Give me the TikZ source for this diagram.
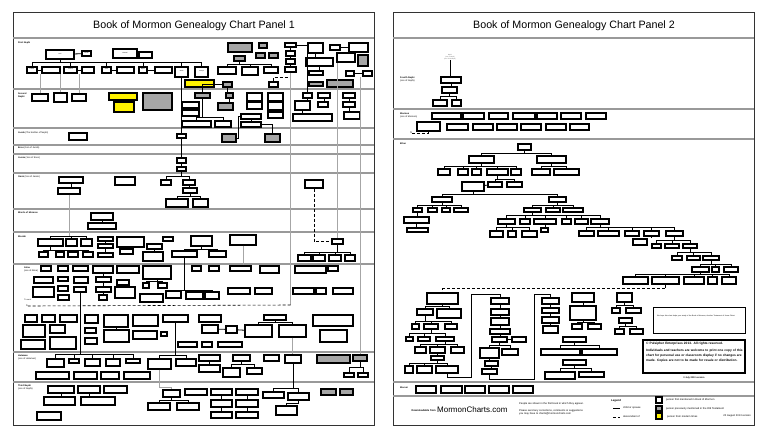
\documentclass[tikz,border=0pt]{standalone}
\usepackage{fontspec}
\setmainfont{Liberation Sans}
\usetikzlibrary{fit}
\newcommand{\fsz}[2]{\fontsize{#1}{#2}\selectfont}
% box spanning two corners
\newcommand{\bx}[7][]{\node[pb,#1,fit={(#3,#4) (#5,#6)}] (#2) {#7};}
% parent to children, bar #2 below parent
\newcommand{\ptree}[3]{\foreach \ch in {#3} {\draw[cn] (#1.south) -- ++(0,#2) -| (\ch.north);}}
\newcommand{\pchain}[2]{\draw[cn] (#1.south) -- (#1.south |- #2.north);}

\begin{document}
\begin{tikzpicture}[x=1pt,y=-1pt,
pb/.style={draw=black,line width=1.1pt,fill=white,inner sep=0pt,font=\fsz{1.5}{1.8},align=center},
gb/.style={fill=black!35},
yb/.style={fill=yellow},
cn/.style={line width=0.8pt,black},
gl/.style={line width=0.6pt,black!35},
dl/.style={line width=0.6pt,black,densely dashed},
sec/.style={line width=1.2pt,black!40},
frame/.style={line width=0.8pt,black!80},
slbl/.style={anchor=north west,align=left,inner sep=0pt,font=\fsz{2.3}{2.8}},
smtxt/.style={inner sep=0pt,align=left,font=\fsz{2.6}{3.2}}
]
\fill[white] (0,0) rectangle (768,445);
\useasboundingbox (0,0) rectangle (768,445);

% ---------------- panel 1
\draw[frame] (13,12) rectangle (374,425);
\draw[sec] (13,38) -- (374,38);
\foreach \yy in {89,128,145,154,173,209,232,264,352,382} \draw[sec] (13,\yy) -- (374,\yy);
\node[font=\fsz{10.7}{12}] (title1) at (194,26) {Book of Mormon Genealogy Chart Panel 1};

\node[slbl] (lb1) at (18,42) {\textbf{First Nephi}};
\node[slbl] (lb2) at (18,93) {\textbf{Second}\\\textbf{Nephi}};
\node[slbl] (lb3) at (18,132) {\textbf{Jacob} (The brother of Nephi)};
\node[slbl] (lb4) at (18,147) {\textbf{Enos} (Son of Jacob)};
\node[slbl] (lb5) at (18,157) {\textbf{Jarom} (Son of Enos)};
\node[slbl] (lb6) at (18,176) {\textbf{Omni} (Son of Jarom)};
\node[slbl] (lb7) at (18,212) {\textbf{Words of Mormon}};
\node[slbl] (lb8) at (18,236) {\textbf{Mosiah}};
\node[slbl] (lb9) at (24,267) {\textbf{Alma}\\(son of Alma)};
\node[slbl] (lb10) at (18,355) {\textbf{Helaman}\\(son of Helaman)};
\node[slbl] (lb11) at (18,385) {\textbf{Third Nephi}\\(son of Nephi)};

% first nephi
\bx{lehi}{46}{50}{74}{59}{Lehi}
\bx{sariah}{82}{51}{91}{56}{Sariah}
\bx{ishm}{113}{49}{137}{58}{Ishmael}
\bx{ishmw}{139}{52}{152}{58}{}
\bx{laman}{27}{67}{37}{73}{Laman}
\bx{lamw}{42}{67}{60}{73}{}
\bx{lemuel}{64}{67}{77}{73}{Lemuel}
\bx{lemw}{82}{67}{94}{73}{}
\bx{sam}{102}{67}{111}{73}{Sam}
\bx{samw}{117}{67}{134}{73}{}
\bx{nephi}{139}{67}{147}{73}{Nephi}
\bx{nephw}{155}{67}{172}{73}{}
\bx{jacob}{175}{67}{188}{77}{Jacob}
\bx{joseph}{195}{67}{208}{77}{Joseph}
\bx[yb]{fy}{185}{80}{214}{87}{}
\bx[gb]{g1}{228}{43}{252}{52}{}
\bx[gb]{g2}{259}{43}{267}{48}{}
\bx[gb]{g3}{234}{56}{245}{61}{}
\bx[gb]{g4}{256}{53}{265}{58}{}
\bx[gb]{g5}{269}{53}{278}{58}{}
\bx{w1}{218}{67}{236}{74}{}
\bx{w2}{242}{67}{258}{75}{}
\bx{w3}{264}{67}{278}{73}{}
\bx{c1}{285}{43}{296}{47}{}
\bx{c2}{286}{51}{295}{56}{}
\bx{c3}{286}{59}{295}{64}{}
\bx{c4}{285}{67}{296}{72}{}
\bx{c5}{303}{93}{312}{98}{}
\bx{r1}{308}{43}{323}{53}{}
\bx{r2}{306}{58}{333}{66}{}
\bx{r3}{309}{71}{323}{75}{}
\bx{r4}{330}{45}{340}{50}{}
\bx{r5}{349}{43}{368}{52}{}
\bx{r6}{337}{53}{355}{62}{}
\bx[gb]{r7}{358}{55}{368}{66}{}
\bx{r8}{346}{71}{354}{76}{}
\bx{r9}{363}{71}{372}{76}{}
\bx[gb]{q1}{309}{82}{323}{86}{}
\bx[gb]{q2}{327}{80}{353}{87}{}
\bx{d1}{269}{82}{278}{87}{}
\bx[gb]{s1}{223}{82}{232}{87}{}

% second nephi
\bx{kid1}{32}{94}{48}{101}{}
\bx{kid2}{54}{93}{67}{102}{}
\bx{kid3}{72}{94}{86}{101}{}
\bx[yb]{sy1}{109}{93}{137}{100}{}
\bx[yb]{sy2}{114}{102}{134}{112}{}
\bx[gb]{sg}{143}{93}{172}{110}{}
\bx[gb]{s2}{195}{93}{210}{98}{}
\bx[gb]{s3}{226}{93}{233}{98}{}
\bx[gb]{s4}{218}{103}{233}{110}{}
\bx{s5}{182}{102}{199}{108}{}
\bx{s6}{182}{110}{199}{116}{}
\bx{s7}{182}{121}{211}{127}{}
\bx{s8}{215}{121}{231}{127}{}
\bx{s9}{247}{93}{262}{101}{}
\bx{s10}{247}{102}{262}{109}{}
\bx{s11}{268}{93}{283}{101}{}
\bx{s12}{268}{102}{283}{110}{}
\bx{s13}{268}{112}{283}{118}{}
\bx{s14}{241}{114}{261}{119}{}
\bx{s15}{241}{122}{261}{127}{}
\bx{s16}{295}{101}{310}{110}{}
\bx{s17}{318}{93}{330}{98}{}
\bx{s18}{318}{102}{328}{107}{}
\bx{s19}{293}{114}{332}{121}{}
\bx{s20}{343}{93}{355}{98}{}
\bx{s21}{343}{102}{355}{107}{}
\bx{s22}{344}{112}{360}{119}{}

% jacob to omni
\bx{jb}{69}{133}{87}{140}{}
\bx[gb]{jg1}{222}{134}{236}{142}{}
\bx[gb]{jg2}{265}{134}{280}{142}{}
\bx{enos}{177}{134}{186}{138}{}
\bx{jarom}{177}{158}{186}{163}{}
\bx{omni}{177}{167}{186}{171}{}
\bx{amaron}{161}{180}{171}{185}{}
\bx{chemish}{183}{180}{195}{185}{}
\bx{abinadom}{183}{188}{197}{193}{}
\bx{amaleki}{166}{199}{188}{207}{}
\bx{obx}{193}{199}{208}{207}{}
\bx{o1}{59}{177}{83}{183}{}
\bx{o2}{58}{188}{80}{194}{}
\bx{o3}{115}{177}{135}{185}{}
\bx{o4}{305}{180}{323}{188}{}
\bx{wm1}{91}{213}{113}{220}{}
\bx{wm2}{88}{223}{116}{229}{}

% mosiah
\bx{m1}{38}{239}{63}{246}{}
\bx{m2}{66}{239}{77}{246}{}
\bx{m3}{81}{239}{92}{246}{}
\bx{m4}{39}{252}{48}{257}{}
\bx{m5}{56}{252}{64}{257}{}
\bx{m6}{68}{252}{78}{257}{}
\bx{m7}{83}{252}{93}{257}{}
\bx{m8}{98}{237}{113}{241}{}
\bx{m9}{98}{244}{113}{248}{}
\bx{m10}{98}{253}{113}{257}{}
\bx{m11}{117}{237}{144}{247}{}
\bx{m12}{120}{249}{133}{254}{}
\bx{m13}{147}{244}{162}{249}{}
\bx{m14}{143}{252}{163}{261}{}
\bx{m15}{163}{237}{173}{241}{}
\bx{m16}{191}{236}{212}{246}{}
\bx{m17}{172}{251}{197}{257}{}
\bx{m18}{209}{251}{226}{257}{}
\bx{m19}{230}{235}{256}{245}{}
\bx{mb}{332}{239}{343}{244}{}
\bx{mr1}{298}{255}{311}{261}{}
\bx{mr2}{313}{255}{325}{261}{}
\bx{mr3}{329}{255}{341}{261}{}
\bx{mr4}{345}{255}{355}{261}{}

% alma
\bx{a1}{41}{266}{51}{271}{}
\bx{a2}{58}{266}{68}{271}{}
\bx{a3}{73}{266}{88}{271}{}
\bx{a4}{93}{266}{113}{273}{}
\bx{a5}{117}{266}{139}{273}{}
\bx{a6}{143}{266}{171}{279}{}
\bx{a7}{192}{266}{201}{271}{}
\bx{a8}{209}{266}{219}{271}{}
\bx{a9}{230}{266}{251}{271}{}
\bx{a10}{260}{266}{279}{273}{}
\bx{a11}{295}{266}{326}{273}{}
\bx{a12}{328}{266}{338}{271}{}
\bx{a13}{34}{277}{53}{283}{}
\bx{a14}{58}{277}{68}{281}{}
\bx{a15}{74}{277}{88}{283}{}
\bx{a16}{96}{277}{111}{282}{}
\bx{a17}{117}{280}{129}{285}{}
\bx{a6a}{143}{283}{149}{288}{}
\bx{a6b}{158}{283}{167}{288}{}
\bx{a18}{33}{287}{54}{297}{}
\bx{a19}{58}{286}{68}{291}{}
\bx{a20}{58}{295}{69}{300}{}
\bx{a21}{74}{287}{86}{292}{}
\bx{a22}{96}{287}{111}{292}{}
\bx{a23}{99}{295}{107}{300}{}
\bx{a24}{115}{287}{135}{298}{}
\bx{a25}{140}{294}{163}{302}{}
\bx{a26}{166}{291}{181}{298}{}
\bx{a27}{186}{292}{203}{299}{}
\bx{a28}{205}{292}{219}{299}{}
\bx{a29}{228}{288}{250}{294}{}
\bx{a30}{255}{288}{272}{294}{}
\bx{a31}{293}{288}{314}{294}{}
\bx{a32}{316}{288}{326}{294}{}
\bx{a33}{333}{288}{353}{294}{}
\bx{b1}{25}{315}{37}{322}{}
\bx{b2}{42}{315}{55}{322}{}
\bx{b3}{60}{315}{77}{322}{}
\bx{b4}{85}{315}{98}{323}{}
\bx{b5}{104}{315}{128}{327}{}
\bx{b6}{133}{315}{158}{326}{}
\bx{b7}{163}{315}{188}{322}{}
\bx{b8}{199}{315}{221}{322}{}
\bx{b9}{264}{315}{286}{320}{}
\bx{b10}{313}{315}{353}{326}{}
\bx{b11}{23}{325}{45}{337}{}
\bx{b12}{50}{325}{65}{333}{}
\bx{b13}{85}{328}{96}{333}{}
\bx{b14}{104}{330}{129}{342}{}
\bx{b15}{133}{331}{157}{339}{}
\bx{b16}{161}{332}{167}{336}{}
\bx{b17}{202}{325}{218}{333}{}
\bx{b18}{226}{326}{237}{333}{}
\bx{b19}{245}{325}{272}{337}{}
\bx{b20}{279}{325}{306}{337}{}
\bx{b21}{320}{330}{347}{342}{}
\bx{b22}{21}{340}{45}{349}{}
\bx{b23}{50}{337}{76}{349}{}
\bx{b24}{85}{338}{97}{344}{}
\bx{b25}{178}{342}{197}{347}{}
\bx{b26}{202}{342}{212}{347}{}
\bx{b27}{218}{342}{242}{347}{}

% helaman
\bx{h1}{47}{359}{64}{367}{}
\bx{h2}{69}{359}{79}{363}{}
\bx{h3}{85}{359}{100}{366}{}
\bx{h4}{106}{359}{120}{366}{}
\bx{h5}{126}{359}{140}{363}{}
\bx{h6}{148}{359}{171}{369}{}
\bx{h7}{176}{359}{196}{366}{}
\bx{h8}{199}{355}{220}{361}{}
\bx{h9}{199}{365}{220}{372}{}
\bx{h10}{233}{355}{250}{361}{}
\bx{h11}{223}{368}{240}{377}{}
\bx{h12}{247}{368}{262}{374}{}
\bx{h13}{264}{355}{279}{361}{}
\bx{h14}{285}{355}{301}{363}{}
\bx[gb]{h15}{317}{355}{350}{363}{}
\bx[gb]{h16}{353}{355}{367}{361}{}
\bx{h17}{36}{372}{69}{379}{}
\bx{h18}{74}{372}{97}{379}{}
\bx{h19}{101}{372}{119}{379}{}
\bx{h20}{124}{372}{150}{379}{}
\bx{h21}{344}{373}{354}{377}{}
\bx{h22}{358}{373}{368}{377}{}

% third nephi
\bx{t1}{48}{386}{74}{393}{}
\bx{t2}{78}{386}{100}{393}{}
\bx{t3}{104}{386}{127}{393}{}
\bx{t4}{44}{397}{75}{405}{}
\bx{t5}{81}{397}{115}{405}{}
\bx{t6}{37}{412}{61}{420}{}
\bx{t7}{163}{390}{180}{397}{}
\bx{t8}{148}{403}{170}{410}{}
\bx{t9}{177}{403}{199}{410}{}
\bx{t10}{185}{389}{207}{395}{}
\bx{t11}{211}{389}{232}{395}{}
\bx{t12}{236}{389}{258}{395}{}
\bx{t13}{211}{400}{232}{407}{}
\bx{t14}{236}{400}{258}{407}{}
\bx{t15}{211}{412}{232}{418}{}
\bx{t16}{236}{412}{258}{418}{}
\bx{t17}{263}{392}{284}{398}{}
\bx{t18}{288}{393}{309}{400}{}
\bx{t19}{276}{406}{297}{415}{}
\bx[gb]{t20}{321}{389}{336}{395}{}
\bx[gb]{t21}{340}{389}{353}{395}{}

% panel 1 links
\draw[cn] (lehi) -- (sariah);
\draw[cn] (ishm) -- (ishmw);
\ptree{lehi}{3}{laman,lemuel,sam,nephi,jacob,joseph}
\foreach \a/\b in {laman/lamw,lemuel/lemw,sam/samw,nephi/nephw} \draw[cn] (\a) -- (\b);
\foreach \k in {kid1,kid2,kid3} \draw[gl] (\k.north) -- (\k.north |- laman.south);
\pchain{jacob}{enos}
\pchain{enos}{jarom}
\pchain{jarom}{omni}
\ptree{omni}{5}{amaron,chemish}
\pchain{chemish}{abinadom}
\ptree{abinadom}{3}{amaleki,obx}
\pchain{sy1}{sy2}
\ptree{g3}{3}{w1,w2,w3}
\pchain{c1}{c2}
\pchain{c2}{c3}
\pchain{c3}{c4}
\draw[cn] (c1.east) -| (c5.north);
\draw[cn] (r4) -- (r5);
\draw[cn] (r8) -- (r9);
\pchain{r1}{r2}
\pchain{r2}{r3}
\draw[dl] (d1.north) -- ++(0,-4) -| (c4.south);
\draw[cn] (s1.west) -| (s2.north);
\draw[cn] (s1.south) -- (s1.south |- s3.north);
\pchain{s3}{s4}
\pchain{s5}{s6}
\ptree{s2}{19}{s7,s8}
\pchain{s9}{s10}
\pchain{s11}{s12}
\pchain{s12}{s13}
\pchain{s14}{s15}
\draw[cn] (s14.west) -- ++(-2,0) |- (jg1.east);
\draw[cn] (s15.east) -| (jg2.north);
\pchain{c5}{s16}
\pchain{s16}{s19}
\pchain{s17}{s18}
\pchain{s20}{s21}
\pchain{s21}{s22}
\pchain{o1}{o2}
\pchain{wm1}{wm2}
\draw[gl] (o2.south) -- ++(0,42) coordinate (mbar);
\foreach \ch in {m1,m2,m3} \draw[cn] (mbar) -| (\ch.north);
\ptree{m1}{4}{m4,m5,m6,m7}
\pchain{m8}{m9}
\pchain{m9}{m10}
\pchain{m11}{m12}
\pchain{m13}{m14}
\ptree{m16}{3}{m17,m18}
\draw[gl] (m19.south) -- (m19.south |- a9.north);
\ptree{mb}{8}{mr1,mr2,mr3,mr4}
\draw[dl] (o4.south) |- (mb.west);
\draw[gl] (mb.north) -- (mb.north |- r6.south);
\pchain{a4}{a16}
\pchain{a16}{a22}
\pchain{a22}{a23}
\ptree{a6}{2}{a6a,a6b}
\ptree{m17}{33}{a26,a27,a28}
\ptree{a21}{62}{h1,h2,h3,h4,h5}
\ptree{b7}{33}{h6,h7}
\pchain{b5}{b14}
\draw[cn] (b17) -- (b18);
\draw[cn] (b18) -- (b19);
\ptree{b9}{2}{b19,b20}
\draw[gl] (b20.south) -- (b20.south |- h14.north);
\coordinate (k3) at (290.5,305);
\node[smtxt,font=\fsz{2}{2.4}] (tocont) at (28,300) {To cont.};
\node[smtxt,font=\fsz{2.4}{2.8}\bfseries] (one1) at (27,306) {1};
\draw[gl] (c4.south) -- (k3);
\draw[dl] (k3) -- (one1.east);
\pchain{h8}{h9}
\ptree{h10}{3}{h11,h12}
\ptree{h16}{6}{h21,h22}
\draw[gl] (h16.north) -- (h16.north |- r8.south);
\pchain{t1}{t4}
\pchain{t2}{t5}
\ptree{t7}{3}{t8,t9}
\pchain{t11}{t13}
\pchain{t13}{t15}
\pchain{t12}{t14}
\pchain{t14}{t16}
\draw[gl] (h6.south) -- ++(0,18) -| (t7.north);
\ptree{h14}{25}{t17,t18}
\ptree{t18}{3}{t19}

% ---------------- panel 2
\draw[frame] (393,12) rectangle (754,425);
\draw[sec] (393,38) -- (754,38);
\foreach \yy in {109,139,382,396} \draw[sec] (393,\yy) -- (754,\yy);
\node[font=\fsz{10.7}{12}] (title2) at (574,26) {Book of Mormon Genealogy Chart Panel 2};
\node[slbl] (lc1) at (400,77) {\textbf{Fourth Nephi}\\(son of Nephi)};
\node[slbl] (lc2) at (400,113) {\textbf{Mormon}\\(son of Mormon)};
\node[slbl] (lc3) at (400,143) {\textbf{Ether}};
\node[slbl] (lc4) at (400,387) {\textbf{Moroni}};

% fourth nephi
\node[smtxt,align=center,text=black!60,font=\fsz{1.5}{1.9}] (fnt) at (450,57) {Nephi\\(son of Nephi)\\(see Third Nephi)};
\bx{fn1}{441}{77}{461}{83}{}
\bx{fn2}{442}{87}{457}{93}{}
\bx{fn3}{433}{100}{447}{106}{}
\bx{fn4}{452}{100}{461}{106}{}
\pchain{fnt}{fn1}
\pchain{fn1}{fn2}
\ptree{fn2}{3}{fn3,fn4}

% mormon
\bx{mo1}{432}{113}{461}{119}{}
\bx{mo2}{463}{113}{484}{119}{}
\bx{mo3}{489}{113}{508}{119}{}
\bx{mo4}{513}{113}{535}{119}{}
\bx{mo5}{537}{113}{557}{119}{}
\bx{mo6}{561}{113}{581}{119}{}
\bx{mo7}{586}{113}{606}{119}{}
\bx{mo8}{417}{122}{440}{131}{}
\bx{mo9}{447}{124}{468}{130}{}
\bx{mo10}{473}{124}{493}{130}{}
\bx{mo11}{497}{124}{517}{130}{}
\bx{mo12}{521}{124}{541}{130}{}
\bx{mo13}{546}{124}{566}{130}{}
\bx{mo14}{570}{124}{589}{130}{}
\node[smtxt,font=\fsz{2.6}{3}\bfseries] (one2) at (411,133) {1};
\draw[dl] (one2.east) -| (mo8.south);

% ether
\bx{et0}{518}{144}{531}{150}{}
\bx{et1}{469}{156}{494}{163}{}
\bx{et2}{537}{156}{566}{163}{}
\bx{et3}{438}{169}{450}{175}{}
\bx{et4}{458}{169}{468}{175}{}
\bx{et5}{472}{169}{481}{175}{}
\bx{et6}{487}{169}{508}{175}{}
\bx{et7}{511}{169}{521}{175}{}
\bx{et8}{532}{169}{550}{175}{}
\bx{et9}{554}{169}{579}{175}{}
\bx{et10}{462}{182}{484}{191}{}
\bx{et11}{488}{182}{502}{187}{}
\bx{et12}{507}{182}{522}{187}{}
\bx{et13}{432}{197}{452}{202}{}
\bx{et14}{549}{197}{566}{202}{}
\bx{et15}{413}{208}{422}{212}{}
\bx{et16}{428}{208}{437}{212}{}
\bx{et17}{442}{208}{450}{212}{}
\bx{et18}{454}{208}{468}{212}{}
\bx{et19}{404}{217}{429}{223}{}
\bx{et20}{407}{228}{428}{232}{}
\bx{et21}{524}{208}{541}{212}{}
\bx{et22}{546}{208}{560}{212}{}
\bx{et23}{563}{208}{583}{212}{}
\bx{et24}{498}{219}{515}{224}{}
\bx{et25}{520}{219}{530}{224}{}
\bx{et26}{534}{219}{556}{224}{}
\bx{et27}{562}{219}{571}{224}{}
\bx{et28}{575}{219}{588}{224}{}
\bx{et29}{591}{219}{609}{224}{}
\bx{et30}{490}{231}{503}{237}{}
\bx{et31}{508}{231}{516}{237}{}
\bx{et32}{522}{231}{537}{237}{}
\bx{et33}{541}{228}{548}{232}{}
\bx{et34}{579}{231}{594}{236}{}
\bx{et35}{598}{231}{619}{236}{}
\bx{et36}{625}{231}{639}{236}{}
\bx{et37}{644}{231}{659}{236}{}
\bx{et38}{666}{231}{683}{236}{}
\bx{et39}{633}{239}{647}{245}{}
\bx{et40}{652}{244}{661}{248}{}
\bx{et41}{665}{244}{679}{248}{}
\bx{et42}{683}{244}{697}{248}{}
\bx{et43}{672}{256}{682}{260}{}
\bx{et44}{687}{256}{700}{260}{}
\bx{et45}{703}{256}{719}{260}{}
\bx{et46}{692}{267}{709}{272}{}
\bx{et47}{712}{267}{719}{272}{}
\bx{et48}{724}{267}{738}{272}{}
\bx{et49}{623}{277}{648}{284}{}
\bx{et50}{652}{277}{679}{284}{}
\bx{et51}{684}{277}{704}{284}{}
\bx{et52}{708}{277}{717}{284}{}
\bx{et53}{722}{277}{736}{284}{}
\bx{et54}{427}{293}{458}{304}{}
\bx{et55}{417}{309}{433}{315}{}
\bx{et56}{437}{309}{461}{318}{}
\bx{et57}{412}{324}{419}{329}{}
\bx{et58}{424}{324}{438}{329}{}
\bx{et59}{445}{324}{457}{329}{}
\bx{et60}{406}{337}{413}{341}{}
\bx{et61}{418}{337}{430}{341}{}
\bx{et62}{436}{337}{454}{341}{}
\bx{et63}{415}{347}{426}{353}{}
\bx{et64}{430}{347}{445}{353}{}
\bx{et65}{451}{347}{464}{353}{}
\bx{et66}{431}{356}{444}{360}{}
\bx{et67}{405}{366}{413}{373}{}
\bx{et68}{417}{366}{432}{373}{}
\bx{et69}{436}{366}{458}{373}{}
\bx{et70}{491}{298}{509}{304}{}
\bx{et71}{491}{309}{509}{315}{}
\bx{et72}{491}{318}{509}{325}{}
\bx{et73}{490}{329}{510}{334}{}
\bx{et74}{492}{337}{507}{342}{}
\bx{et75}{512}{337}{526}{342}{}
\bx{et76}{480}{348}{499}{358}{}
\bx{et77}{502}{349}{518}{355}{}
\bx{et78}{485}{361}{498}{366}{}
\bx{et79}{482}{369}{497}{374}{}
\bx{et80}{542}{298}{559}{304}{}
\bx{et81}{542}{308}{559}{313}{}
\bx{et82}{542}{317}{559}{323}{}
\bx{et83}{543}{326}{558}{333}{}
\bx{et84}{572}{293}{594}{302}{}
\bx{et85}{570}{306}{596}{320}{}
\bx{et86}{572}{324}{582}{329}{}
\bx{et87}{588}{324}{601}{329}{}
\bx{et88}{563}{337}{586}{342}{}
\bx{et89}{541}{349}{580}{355}{}
\bx{et90}{582}{349}{617}{355}{}
\bx{et91}{563}{360}{586}{365}{}
\bx{et92}{545}{372}{575}{379}{}
\bx{et93}{579}{372}{604}{377}{}
\bx{et94}{617}{293}{632}{302}{}
\bx{et95}{612}{308}{620}{313}{}
\bx{et96}{626}{308}{641}{313}{}
\bx{et97}{619}{318}{632}{323}{}
\bx{et98}{615}{329}{624}{334}{}
\bx{et99}{630}{329}{643}{334}{}

\ptree{et0}{3}{et1,et2}
\ptree{et1}{3}{et3,et4,et5,et6,et7}
\ptree{et2}{3}{et8,et9}
\ptree{et6}{4}{et11,et12}
\draw[cn] (et10) -- (et11);
\ptree{et10}{3}{et13,et14}
\ptree{et13}{3}{et15,et16,et17,et18}
\pchain{et15}{et19}
\pchain{et19}{et20}
\ptree{et14}{3}{et21,et22,et23}
\ptree{et21}{3}{et24,et25,et26,et27,et28,et29}
\ptree{et24}{3}{et30,et31,et32}
\pchain{et26}{et33}
\ptree{et29}{3}{et34,et35,et36,et37,et38}
\pchain{et37}{et39}
\ptree{et38}{4}{et40,et41,et42}
\ptree{et42}{4}{et43,et44,et45}
\ptree{et45}{4}{et46,et47,et48}
\ptree{et46}{2}{et49,et50,et51,et52,et53}
\draw[dl] (et50.south) -- ++(0,4) -| (et54.north);
\ptree{et54}{2}{et55,et56}
\ptree{et55}{6}{et57,et58,et59}
\ptree{et58}{4}{et60,et61,et62}
\ptree{et62}{3}{et63,et64,et65}
\pchain{et64}{et66}
\ptree{et66}{2.5}{et67,et68,et69}
\coordinate (k1) at (471,294);
\draw[cn] (et69.south) -- ++(0,4) -| (k1) -| (et70.north);
\pchain{et70}{et71}
\pchain{et71}{et72}
\pchain{et72}{et73}
\pchain{et73}{et74}
\draw[cn] (et74) -- (et75);
\ptree{et74}{3}{et76,et77}
\pchain{et76}{et78}
\pchain{et78}{et79}
\coordinate (k2) at (534,294);
\draw[cn] (et79.south) -- ++(0,5) -| (k2) -| (et80.north);
\pchain{et80}{et81}
\pchain{et81}{et82}
\pchain{et82}{et83}
\pchain{et84}{et85}
\ptree{et85}{2}{et86,et87}
\ptree{et88}{3}{et89,et90}
\ptree{et91}{3}{et92,et93}
\ptree{et94}{3}{et95,et96}
\ptree{et97}{3}{et98,et99}

% notes
\node[pb,line width=1pt,fit={(653,307) (745,333)}] (note) {};
\node[smtxt,anchor=north west,text width=86pt,font=\fsz{1.8}{2.3}] (notetxt) at (657,315) {We hope this chart helps your study of the Book of Mormon, Another Testament of Jesus Christ.};
\node[pb,line width=1.1pt,fit={(643,340) (745,373)}] (copy) {};
\node[smtxt,anchor=north west,text width=100pt,font=\fsz{3.2}{5.1}\bfseries] (copytxt) at (646,342) {© Pulsipher Enterprises 2013. All rights reserved.\\[1.6pt]Individuals and teachers are welcome to print one copy of this chart for personal use or classroom display if no changes are made. Copies are not to be made for resale or distribution.};
\node[smtxt,font=\fsz{2.3}{2.8}\bfseries] (ver1) at (694,378) {3 July 2013 version};

% moroni
\bx{mn1}{416}{386}{436}{393}{}
\bx{mn2}{441}{386}{462}{393}{}
\bx{mn3}{465}{386}{485}{393}{}
\bx{mn4}{489}{386}{509}{393}{}
\bx{mn5}{513}{386}{533}{393}{}

% footer
\node[smtxt,anchor=east,font=\fsz{2.6}{3}\bfseries] (dl1) at (436,410.5) {Downloadable from};
\node[anchor=west,inner sep=0pt,font=\fsz{8}{9}] (site) at (437,409.5) {MormonCharts.com};
\node[smtxt,anchor=west] (ft1) at (519,404) {People are shown in the first book in which they appear.};
\node[smtxt,anchor=north west] (ft2) at (519,409.5) {Please send any corrections, comments or suggestions\\you may have to charts@mormoncharts.com};
\node[smtxt,anchor=west,font=\fsz{2.8}{3.2}\bfseries] (lgh) at (611,401) {Legend};
\coordinate (lgA) at (613,408);
\coordinate (lgB) at (620,408);
\coordinate (lgC) at (613,417);
\coordinate (lgD) at (620,417);
\draw[cn,line width=0.9pt] (lgA) -- (lgB);
\draw[dl] (lgC) -- (lgD);
\node[smtxt,anchor=west] (lg1) at (623,408) {child or spouse};
\node[smtxt,anchor=west] (lg2) at (623,417) {descendant of};
\bx{lgb1}{656}{397}{662}{403}{}
\bx[gb]{lgb2}{656}{406}{662}{411}{}
\bx[yb]{lgb3}{656}{413}{662}{419}{}
\node[smtxt,anchor=west] (lg3) at (666,400) {person first mentioned in Book of Mormon};
\node[smtxt,anchor=west] (lg4) at (666,408.5) {person previously mentioned in the Old Testament};
\node[smtxt,anchor=west] (lg5) at (667,416.5) {person from modern times};
\node[smtxt,anchor=east] (ver2) at (751,416) {20 August 2013 version};
\end{tikzpicture}
\end{document}
